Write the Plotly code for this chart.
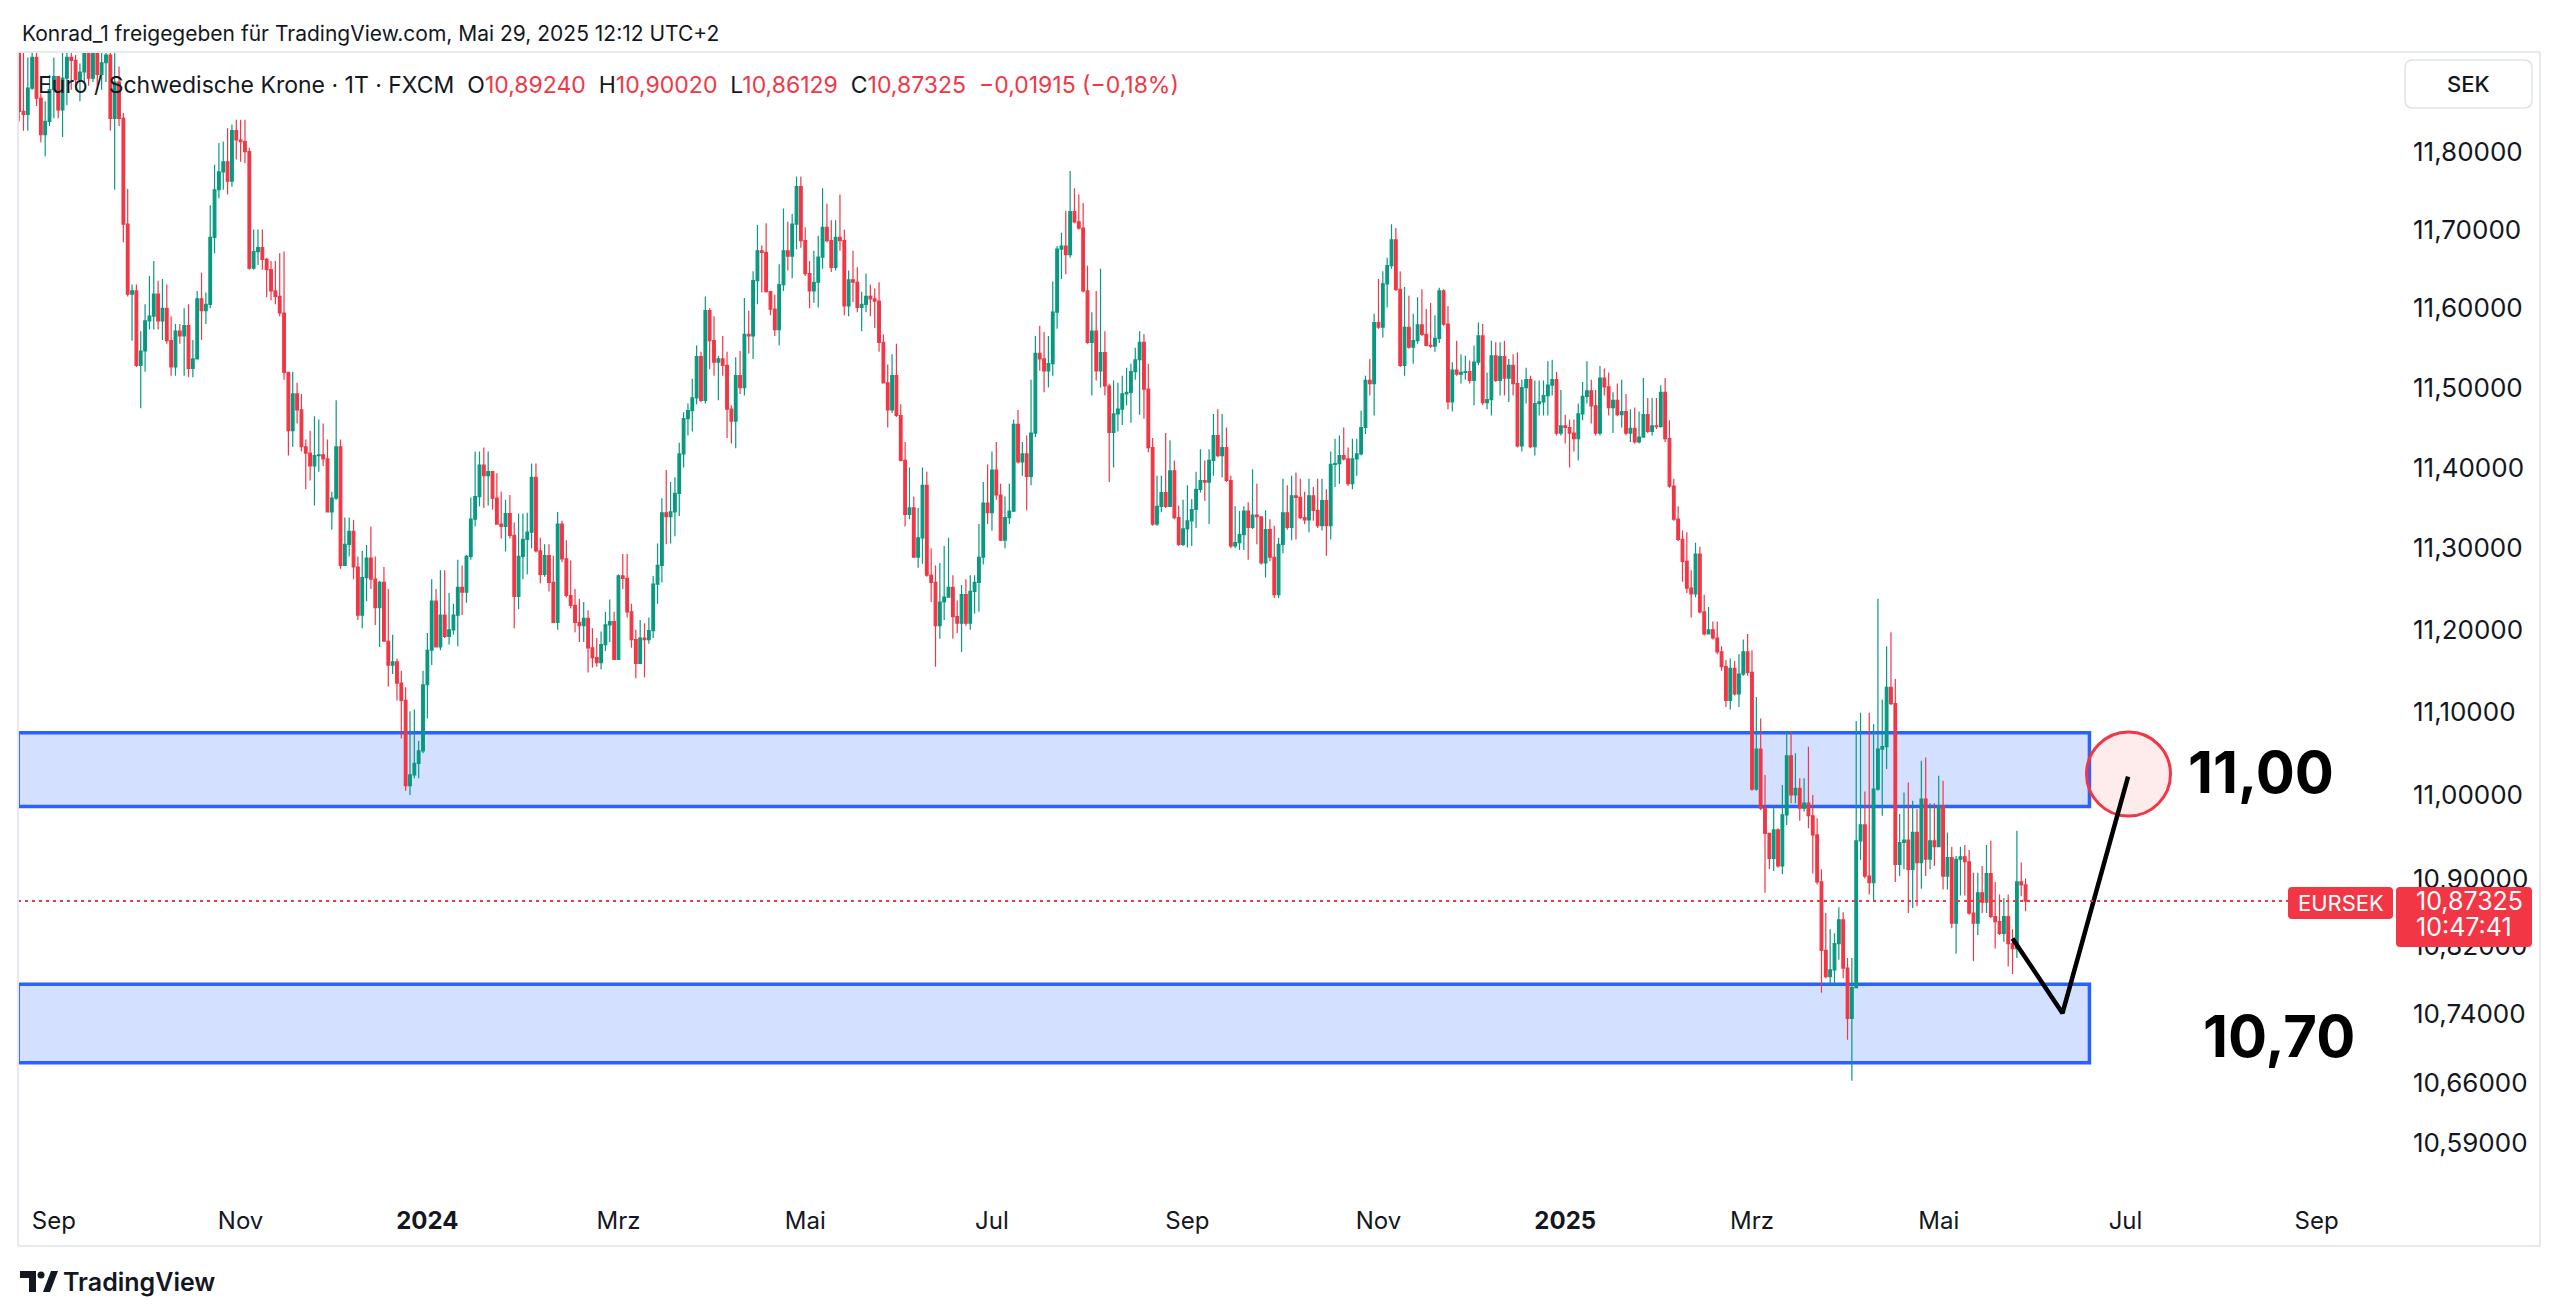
import math
import numpy as np
import pandas as pd
import plotly.graph_objects as go

# ---------------- data (EUR/SEK daily) ----------------
first_open = 11.955

close = [
    11.930, 11.852, 11.848, 11.882, 11.922, 11.869, 11.822, 11.839, 11.880, 11.897,
    11.854, 11.895, 11.922, 11.918, 11.893, 11.903, 11.930, 11.895, 11.930, 11.900,
    11.915, 11.925, 11.843, 11.890, 11.843, 11.707, 11.618, 11.622, 11.528, 11.546,
    11.584, 11.590, 11.618, 11.584, 11.600, 11.559, 11.526, 11.571, 11.565, 11.578,
    11.524, 11.536, 11.612, 11.597, 11.605, 11.690, 11.751, 11.774, 11.787, 11.762,
    11.827, 11.815, 11.813, 11.800, 11.651, 11.672, 11.677, 11.662, 11.649, 11.622,
    11.615, 11.594, 11.519, 11.446, 11.492, 11.472, 11.426, 11.418, 11.402, 11.415,
    11.416, 11.411, 11.345, 11.362, 11.426, 11.279, 11.305, 11.321, 11.277, 11.218,
    11.264, 11.288, 11.262, 11.227, 11.258, 11.186, 11.157, 11.161, 11.135, 11.114,
    11.011, 11.024, 11.038, 11.053, 11.133, 11.175, 11.235, 11.179, 11.218, 11.192,
    11.200, 11.218, 11.252, 11.246, 11.290, 11.336, 11.364, 11.403, 11.390, 11.395,
    11.362, 11.330, 11.327, 11.343, 11.316, 11.241, 11.290, 11.311,
    11.320, 11.388, 11.297, 11.268, 11.291, 11.258, 11.209, 11.330, 11.287, 11.242,
    11.230, 11.209, 11.205, 11.214, 11.178, 11.166, 11.160, 11.182, 11.206, 11.210,
    11.164, 11.266, 11.263, 11.222, 11.188, 11.159, 11.190, 11.188, 11.199, 11.256,
    11.279, 11.344, 11.339, 11.345, 11.368, 11.417, 11.461, 11.471, 11.487, 11.539,
    11.484, 11.597, 11.559, 11.532, 11.536, 11.528, 11.473, 11.458, 11.515, 11.500,
    11.567, 11.565, 11.635, 11.673, 11.671, 11.621, 11.599, 11.573, 11.630,
    11.673, 11.666, 11.707, 11.755, 11.686, 11.644, 11.622, 11.633, 11.665, 11.703,
    11.686, 11.652, 11.690, 11.686, 11.603, 11.636, 11.633, 11.601, 11.605, 11.615,
    11.612,
    11.609, 11.557, 11.506, 11.472, 11.515, 11.465, 11.409, 11.342, 11.350, 11.289,
    11.313, 11.378, 11.267, 11.258, 11.205, 11.234, 11.240, 11.252, 11.216, 11.208,
    11.243, 11.208, 11.247, 11.258, 11.289, 11.356, 11.344, 11.397, 11.366, 11.310,
    11.338, 11.346, 11.454, 11.407, 11.417, 11.389, 11.443, 11.543,
    11.536, 11.521, 11.530, 11.595, 11.675, 11.679, 11.668, 11.723, 11.710, 11.702,
    11.622, 11.557, 11.571, 11.521, 11.544, 11.502, 11.444, 11.467, 11.473, 11.492,
    11.494, 11.520,
    11.535,
    11.557, 11.498, 11.425, 11.330, 11.352, 11.369, 11.352, 11.396, 11.338, 11.305,
    11.324, 11.334, 11.348, 11.373, 11.384, 11.382, 11.409, 11.440, 11.415, 11.425,
    11.384, 11.303, 11.307, 11.317, 11.346, 11.326, 11.341, 11.339, 11.282, 11.323,
    11.289, 11.243, 11.305, 11.344, 11.326, 11.365,
    11.363, 11.338, 11.335, 11.365, 11.347, 11.328, 11.359, 11.328, 11.404, 11.405,
    11.415, 11.411, 11.380, 11.411, 11.417, 11.450, 11.509, 11.505, 11.582, 11.576,
    11.631, 11.654, 11.687, 11.624, 11.528, 11.576, 11.551, 11.559, 11.579, 11.567,
    11.553, 11.552, 11.562, 11.622, 11.580, 11.482, 11.522, 11.517, 11.519, 11.520,
    11.509, 11.532, 11.565, 11.481, 11.485, 11.540, 11.509, 11.539, 11.512, 11.528,
    11.505, 11.427, 11.500, 11.510, 11.426, 11.480, 11.482, 11.490, 11.503,
    11.510, 11.443, 11.452, 11.450, 11.443, 11.436, 11.467, 11.489, 11.496, 11.477,
    11.443, 11.512, 11.501, 11.475, 11.484, 11.466, 11.470, 11.443, 11.449, 11.432,
    11.438, 11.466, 11.445, 11.452, 11.451, 11.494, 11.436, 11.377, 11.336, 11.311,
    11.284, 11.251, 11.244, 11.293, 11.222, 11.195, 11.200, 11.190, 11.173, 11.155,
    11.114, 11.153, 11.122, 11.146, 11.173, 11.148, 11.007, 11.055, 10.984, 10.954,
    10.924, 10.958, 10.915, 10.976, 11.047, 11.000, 11.008, 10.984, 10.990,
    10.975, 10.952, 10.896, 10.815, 10.784, 10.792, 10.823, 10.851, 10.794, 10.735,
    10.771, 10.945, 10.964, 10.903, 10.895, 11.007, 11.055, 11.058, 11.130, 11.110,
    10.917, 10.943, 10.946, 10.911, 10.955, 10.919, 10.995, 10.923, 10.945, 10.938,
    10.987, 10.903, 10.925, 10.847, 10.923, 10.926, 10.920, 10.859, 10.847, 10.883,
    10.872, 10.906, 10.855, 10.849, 10.835, 10.855, 10.823, 10.817, 10.896, 10.8924, 10.87325,
]

high = [
    11.975, 11.950, 11.930, 11.922, 11.950, 11.930, 11.875, 11.865, 11.899, 11.922,
    11.897, 11.930, 11.940, 11.940, 11.925, 11.914, 11.960, 11.950, 11.970, 11.940,
    11.940, 11.950, 11.930, 11.930, 11.910, 11.850, 11.752, 11.630, 11.630, 11.571,
    11.605, 11.641, 11.660, 11.635, 11.637, 11.630, 11.590, 11.580, 11.580, 11.600,
    11.605, 11.560, 11.622, 11.645, 11.620, 11.731, 11.783, 11.811, 11.813, 11.830,
    11.835, 11.841, 11.841, 11.841, 11.805, 11.700, 11.700, 11.700, 11.664, 11.660,
    11.660, 11.670, 11.672, 11.520, 11.520, 11.506, 11.492, 11.435, 11.446, 11.464,
    11.460, 11.455, 11.435, 11.370, 11.484, 11.435, 11.338, 11.338, 11.335, 11.290,
    11.297, 11.304, 11.327, 11.290, 11.260, 11.277, 11.250, 11.194, 11.165, 11.150,
    11.130, 11.101, 11.103, 11.065, 11.150, 11.196, 11.262, 11.250, 11.273, 11.273,
    11.245, 11.232, 11.286, 11.279, 11.292, 11.363, 11.420, 11.420, 11.425, 11.420,
    11.393, 11.393, 11.370, 11.360, 11.366, 11.332, 11.343, 11.343,
    11.344, 11.405, 11.405, 11.313, 11.305, 11.305, 11.291, 11.345, 11.334, 11.310,
    11.285, 11.250, 11.238, 11.234, 11.224, 11.202, 11.190, 11.198, 11.222, 11.237,
    11.222, 11.268, 11.293, 11.293, 11.232, 11.200, 11.212, 11.208, 11.215, 11.266,
    11.306, 11.362, 11.397, 11.382, 11.388, 11.431, 11.469, 11.480, 11.511, 11.553,
    11.545, 11.615, 11.600, 11.590, 11.540, 11.565, 11.545, 11.478, 11.538, 11.546,
    11.613, 11.597, 11.647, 11.706, 11.680, 11.708, 11.620, 11.617, 11.656,
    11.727, 11.710, 11.720, 11.768, 11.768, 11.703, 11.660, 11.673, 11.692, 11.753,
    11.733, 11.712, 11.712, 11.745, 11.700, 11.648, 11.673, 11.652, 11.621, 11.644,
    11.630,
    11.625, 11.633, 11.567, 11.529, 11.542, 11.555, 11.479, 11.432, 11.400, 11.364,
    11.350, 11.400, 11.395, 11.300, 11.279, 11.282, 11.303, 11.313, 11.267, 11.236,
    11.255, 11.262, 11.267, 11.267, 11.330, 11.382, 11.404, 11.420, 11.432, 11.380,
    11.364, 11.380, 11.460, 11.472, 11.432, 11.440, 11.510, 11.565,
    11.578, 11.570, 11.565, 11.634, 11.679, 11.696, 11.724, 11.775, 11.753, 11.745,
    11.734, 11.654, 11.595, 11.622, 11.650, 11.571, 11.505, 11.509, 11.506, 11.515,
    11.525, 11.530,
    11.550,
    11.571, 11.567, 11.530, 11.437, 11.390, 11.390, 11.443, 11.434, 11.409, 11.353,
    11.360, 11.378, 11.361, 11.395, 11.423, 11.409, 11.423, 11.467, 11.473, 11.467,
    11.450, 11.390, 11.352, 11.346, 11.352, 11.357, 11.398, 11.380, 11.338, 11.347,
    11.336, 11.328, 11.313, 11.386, 11.378, 11.390,
    11.394, 11.386, 11.370, 11.386, 11.376, 11.386, 11.386, 11.373, 11.420, 11.436,
    11.440, 11.450, 11.425, 11.436, 11.436, 11.471, 11.515, 11.536, 11.593, 11.637,
    11.647, 11.664, 11.707, 11.702, 11.647, 11.627, 11.616, 11.593, 11.614, 11.624,
    11.599, 11.607, 11.591, 11.626, 11.624, 11.603, 11.532, 11.559, 11.542, 11.540,
    11.534, 11.553, 11.582, 11.580, 11.519, 11.559, 11.557, 11.557, 11.559, 11.536,
    11.542, 11.544, 11.510, 11.525, 11.515, 11.509, 11.509, 11.509, 11.533,
    11.535, 11.520, 11.497, 11.466, 11.460, 11.460, 11.480, 11.507, 11.533, 11.510,
    11.497, 11.527, 11.524, 11.519, 11.494, 11.505, 11.510, 11.492, 11.473, 11.475,
    11.470, 11.512, 11.487, 11.487, 11.487, 11.503, 11.512, 11.459, 11.386, 11.352,
    11.322, 11.320, 11.273, 11.307, 11.302, 11.243, 11.228, 11.210, 11.210, 11.180,
    11.163, 11.165, 11.162, 11.170, 11.188, 11.195, 11.175, 11.118, 11.092, 11.024,
    10.954, 10.984, 10.960, 11.012, 11.077, 11.077, 11.050, 11.020, 11.020,
    11.058, 11.000, 10.972, 10.911, 10.859, 10.840, 10.835, 10.866, 10.860, 10.806,
    10.806, 11.089, 11.099, 11.004, 11.099, 11.085, 11.238, 11.115, 11.180, 11.197,
    11.140, 10.977, 11.003, 11.015, 10.993, 10.983, 11.041, 11.045, 10.990, 10.990,
    11.023, 11.017, 10.955, 10.938, 10.927, 10.938, 10.940, 10.934, 10.907, 10.907,
    10.915, 10.940, 10.945, 10.896, 10.881, 10.877, 10.881, 10.840, 10.957, 10.919, 10.90020,
]

low = [
    11.900, 11.839, 11.827, 11.827, 11.880, 11.859, 11.812, 11.794, 11.833, 11.843,
    11.843, 11.819, 11.860, 11.880, 11.880, 11.865, 11.890, 11.885, 11.890, 11.880,
    11.880, 11.890, 11.827, 11.751, 11.833, 11.684, 11.615, 11.559, 11.526, 11.474,
    11.520, 11.573, 11.573, 11.573, 11.560, 11.555, 11.515, 11.515, 11.555, 11.515,
    11.513, 11.513, 11.540, 11.560, 11.580, 11.600, 11.670, 11.740, 11.751, 11.745,
    11.755, 11.790, 11.787, 11.785, 11.649, 11.649, 11.655, 11.649, 11.614, 11.610,
    11.605, 11.590, 11.510, 11.415, 11.426, 11.455, 11.420, 11.373, 11.384, 11.353,
    11.395, 11.402, 11.345, 11.323, 11.360, 11.275, 11.285, 11.290, 11.262, 11.212,
    11.202, 11.235, 11.250, 11.206, 11.179, 11.186, 11.131, 11.146, 11.114, 11.068,
    11.005, 11.000, 11.020, 11.020, 11.050, 11.092, 11.157, 11.179, 11.175, 11.190,
    11.182, 11.194, 11.180, 11.218, 11.233, 11.286, 11.327, 11.352, 11.350, 11.353,
    11.348, 11.330, 11.312, 11.296, 11.312, 11.202, 11.225, 11.262,
    11.268, 11.300, 11.295, 11.257, 11.265, 11.247, 11.209, 11.200, 11.283, 11.240,
    11.226, 11.197, 11.185, 11.185, 11.148, 11.154, 11.155, 11.152, 11.174, 11.185,
    11.164, 11.168, 11.250, 11.215, 11.178, 11.141, 11.158, 11.142, 11.183, 11.190,
    11.232, 11.258, 11.305, 11.306, 11.315, 11.340, 11.400, 11.440, 11.445, 11.479,
    11.482, 11.480, 11.523, 11.515, 11.484, 11.515, 11.437, 11.430, 11.424, 11.492,
    11.490, 11.543, 11.536, 11.605, 11.620, 11.620, 11.591, 11.565, 11.553,
    11.622, 11.648, 11.638, 11.675, 11.677, 11.641, 11.600, 11.607, 11.601, 11.650,
    11.684, 11.646, 11.648, 11.673, 11.591, 11.590, 11.608, 11.595, 11.571, 11.595,
    11.590,
    11.575, 11.545, 11.505, 11.450, 11.468, 11.463, 11.408, 11.327, 11.336, 11.289,
    11.276, 11.281, 11.265, 11.234, 11.155, 11.189, 11.212, 11.240, 11.189, 11.196,
    11.173, 11.205, 11.200, 11.220, 11.222, 11.280, 11.330, 11.322, 11.360, 11.309,
    11.300, 11.330, 11.345, 11.405, 11.390, 11.347, 11.378, 11.438,
    11.521, 11.494, 11.500, 11.515, 11.574, 11.637, 11.643, 11.664, 11.708, 11.700,
    11.620, 11.555, 11.490, 11.509, 11.500, 11.490, 11.382, 11.400, 11.445, 11.453,
    11.478, 11.456,
    11.510,
    11.466, 11.461, 11.419, 11.328, 11.328, 11.345, 11.350, 11.356, 11.336, 11.303,
    11.303, 11.301, 11.303, 11.325, 11.369, 11.359, 11.330, 11.390, 11.413, 11.388,
    11.382, 11.300, 11.300, 11.298, 11.298, 11.286, 11.324, 11.305, 11.280, 11.264,
    11.284, 11.239, 11.239, 11.294, 11.323, 11.310,
    11.311, 11.336, 11.330, 11.320, 11.334, 11.325, 11.322, 11.291, 11.311, 11.376,
    11.380, 11.409, 11.377, 11.373, 11.390, 11.415, 11.442, 11.490, 11.465, 11.574,
    11.563, 11.601, 11.650, 11.622, 11.526, 11.515, 11.549, 11.530, 11.555, 11.565,
    11.552, 11.550, 11.545, 11.556, 11.578, 11.473, 11.470, 11.515, 11.505, 11.510,
    11.505, 11.478, 11.528, 11.478, 11.473, 11.465, 11.507, 11.490, 11.490, 11.482,
    11.490, 11.425, 11.420, 11.480, 11.424, 11.415, 11.465, 11.465, 11.465,
    11.490, 11.440, 11.440, 11.430, 11.400, 11.420, 11.409, 11.459, 11.480, 11.455,
    11.440, 11.440, 11.490, 11.465, 11.443, 11.464, 11.450, 11.440, 11.432, 11.430,
    11.430, 11.452, 11.443, 11.440, 11.448, 11.450, 11.432, 11.375, 11.334, 11.309,
    11.259, 11.245, 11.215, 11.240, 11.220, 11.193, 11.195, 11.188, 11.170, 11.150,
    11.106, 11.103, 11.120, 11.106, 11.144, 11.144, 11.005, 11.005, 10.982, 10.883,
    10.911, 10.909, 10.913, 10.905, 10.964, 10.990, 10.990, 10.969, 10.980,
    10.960, 10.906, 10.893, 10.765, 10.782, 10.774, 10.774, 10.804, 10.782, 10.710,
    10.662, 10.770, 10.922, 10.900, 10.881, 10.874, 11.005, 10.975, 11.031, 11.108,
    10.896, 10.903, 10.911, 10.859, 10.865, 10.867, 10.888, 10.903, 10.911, 10.915,
    10.938, 10.887, 10.887, 10.841, 10.811, 10.880, 10.880, 10.857, 10.802, 10.833,
    10.859, 10.859, 10.853, 10.817, 10.833, 10.825, 10.796, 10.787, 10.806, 10.879, 10.86129,
]

last_date = "2025-05-29"

y_tickvals = [11.80, 11.70, 11.60, 11.50, 11.40, 11.30, 11.20, 11.10, 11.00,
              10.90, 10.82, 10.74, 10.66, 10.59]
x_tickvals = ["2023-09-01", "2023-11-01", "2024-01-01", "2024-03-01", "2024-05-01",
              "2024-07-01", "2024-09-02", "2024-11-01", "2025-01-01", "2025-03-03",
              "2025-05-01", "2025-07-01", "2025-09-01"]
x_ticktext = ["Sep", "Nov", "<b>2024</b>", "Mrz", "Mai", "Jul", "Sep", "Nov",
              "<b>2025</b>", "Mrz", "Mai", "Jul", "Sep"]

# drawings (time / price anchors)
zone_upper = (10.986, 11.075)
zone_lower = (10.683, 10.775)
path_bars = [460.0, 471.5, 486.6]          # bar positions of the projection line
path_prices = [10.829, 10.741, 11.022]
circle_bar, circle_price = 486.7, 11.025
label_upper = ("11,00", 517.3, 11.028)
label_lower = ("10,70", 521.3, 10.714)

# ---------------- build ----------------
GREEN = "#089981"
RED = "#F23645"
DARK = "#131722"
BLUE = "#2962FF"

n = min(len(close), len(high), len(low))
close = close[:n]; high = high[:n]; low = low[:n]
opens = [first_open] + close[:-1]
hi = [max(h, o, c) for h, o, c in zip(high, opens, close)]
lo = [min(l, o, c) for l, o, c in zip(low, opens, close)]
dates = pd.bdate_range(end=last_date, periods=n)

cal = pd.bdate_range(dates[0], periods=700)


def at(pos):
    k = int(math.floor(pos))
    return cal[k] + pd.Timedelta(days=float(pos - k))


W, H = 2560, 1314
PL, PR, PT, PB = 18, 2393, 52, 1195


def px(x):
    return (x - PL) / (PR - PL)


def py(y):
    return (PB - y) / (PB - PT)


def fmt(v, d=5):
    return f"{v:.{d}f}".replace(".", ",").replace("-", "\u2212")


fig = go.Figure()
fig.add_trace(go.Candlestick(
    x=dates, open=opens, high=hi, low=lo, close=close,
    increasing=dict(line=dict(color=GREEN, width=1.2), fillcolor=GREEN),
    decreasing=dict(line=dict(color=RED, width=1.2), fillcolor=RED),
    whiskerwidth=0, hoverinfo="skip", showlegend=False,
))
# target circle (pixel-sized marker)
fig.add_trace(go.Scatter(
    x=[at(circle_bar)], y=[circle_price], mode="markers",
    marker=dict(symbol="circle", size=84, color="rgba(242,54,69,0.10)",
                line=dict(color=RED, width=3)),
    hoverinfo="skip", showlegend=False,
))
fig.add_trace(go.Scatter(
    x=[at(b) for b in path_bars], y=path_prices, mode="lines",
    line=dict(color="black", width=4.5), hoverinfo="skip", showlegend=False,
))

shapes = []
x_left = at(0.78)
x_right = at(477.7)
for lo_, hi_ in (zone_upper, zone_lower):
    shapes.append(dict(type="rect", xref="x", yref="y", x0=x_left, x1=x_right,
                       y0=lo_, y1=hi_, layer="below",
                       line=dict(color=BLUE, width=3.5),
                       fillcolor="rgba(41,98,255,0.2)"))
# last price line
shapes.append(dict(type="line", xref="x", yref="y", x0=at(0.74), x1=at(523.7),
                   y0=close[-1], y1=close[-1], layer="above",
                   line=dict(color=RED, width=2, dash="3px,4px")))


def rrect(x0, y0, x1, y1, r):
    rx = r / (PR - PL); ry = r / (PB - PT)
    X0, X1, Y0, Y1 = px(x0), px(x1), py(y0), py(y1)
    return (f"M{X0+rx},{Y0} L{X1-rx},{Y0} Q{X1},{Y0} {X1},{Y0-ry} "
            f"L{X1},{Y1+ry} Q{X1},{Y1} {X1-rx},{Y1} L{X0+rx},{Y1} "
            f"Q{X0},{Y1} {X0},{Y1+ry} L{X0},{Y0-ry} Q{X0},{Y0} {X0+rx},{Y0} Z")


def poly(pts):
    return "M" + " L".join(f"{px(a)},{py(b)}" for a, b in pts) + " Z"


FRAME = "#E6E9EF"
for (a, b, c, d) in [(18, 52, 2540, 52), (18, 1246, 2540, 1246), (18, 52, 18, 1246), (2540, 52, 2540, 1246)]:
    shapes.append(dict(type="line", xref="paper", yref="paper", x0=px(a), y0=py(b), x1=px(c), y1=py(d),
                       line=dict(color=FRAME, width=2), layer="above"))
# SEK button
shapes.append(dict(type="path", xref="paper", yref="paper", path=rrect(2405, 60, 2532, 108, 8),
                   line=dict(color="#E0E3EB", width=1.5), fillcolor="white", layer="above"))
# EURSEK tag & price label
shapes.append(dict(type="path", xref="paper", yref="paper", path=rrect(2288, 887, 2393, 919, 4),
                   line=dict(width=0), fillcolor=RED, layer="above"))
shapes.append(dict(type="path", xref="paper", yref="paper", path=rrect(2396, 887, 2532, 947, 4),
                   line=dict(width=0), fillcolor=RED, layer="above"))
# TradingView logo mark
shapes.append(dict(type="path", xref="paper", yref="paper",
                   path=poly([(20, 1271), (36, 1271), (36, 1292), (29, 1292), (29, 1278), (20, 1278)]),
                   line=dict(width=0), fillcolor=DARK, layer="above"))
shapes.append(dict(type="circle", xref="paper", yref="paper", x0=px(37.5), x1=px(44.5),
                   y0=py(1271.5), y1=py(1278.5), line=dict(width=0), fillcolor=DARK, layer="above"))
shapes.append(dict(type="path", xref="paper", yref="paper",
                   path=poly([(43, 1292), (50, 1292), (58, 1271), (51, 1271)]),
                   line=dict(width=0), fillcolor=DARK, layer="above"))

annotations = []
FONT = "Inter"
annotations.append(dict(xref="paper", yref="paper", x=px(20), y=py(33), xanchor="left", yanchor="middle",
                        text="Konrad_1 freigegeben für TradingView.com, Mai 29, 2025 12:12 UTC+2",
                        showarrow=False, font=dict(family=FONT, size=21, color=DARK)))
chg = close[-1] - close[-2]
pct = chg / close[-2] * 100
sp = "&nbsp;&nbsp;"
legend = ("Euro / Schwedische Krone · 1T · FXCM" + sp +
          f"O<span style='color:{RED}'>{fmt(opens[-1])}</span>" + sp +
          f"H<span style='color:{RED}'>{fmt(hi[-1])}</span>" + sp +
          f"L<span style='color:{RED}'>{fmt(lo[-1])}</span>" + sp +
          f"C<span style='color:{RED}'>{fmt(close[-1])}</span>" + sp +
          f"<span style='color:{RED}'>{fmt(chg)} ({fmt(pct, 2)}%)</span>")
annotations.append(dict(xref="paper", yref="paper", x=px(36), y=py(85), xanchor="left", yanchor="middle",
                        text=legend, showarrow=False, font=dict(family=FONT, size=23, color=DARK)))
annotations.append(dict(xref="paper", yref="paper", x=px(2468.5), y=py(84), xanchor="center", yanchor="middle",
                        text="SEK", showarrow=False, font=dict(family=FONT, size=22, color=DARK, weight=500)))
annotations.append(dict(xref="paper", yref="paper", x=px(2340.5), y=py(903), xanchor="center", yanchor="middle",
                        text="EURSEK", showarrow=False, font=dict(family=FONT, size=22, color="white")))
annotations.append(dict(xref="paper", yref="paper", x=px(2414), y=py(901), xanchor="left", yanchor="middle",
                        text=fmt(close[-1]), showarrow=False, font=dict(family=FONT, size=25, color="white")))
annotations.append(dict(xref="paper", yref="paper", x=px(2414), y=py(927), xanchor="left", yanchor="middle",
                        text="10:47:41", showarrow=False, font=dict(family=FONT, size=25, color="white")))
for txt, b, p in (label_upper, label_lower):
    annotations.append(dict(xref="x", yref="y", x=at(b), y=math.log10(p), xanchor="center", yanchor="middle",
                            text=f"<b>{txt}</b>", showarrow=False,
                            font=dict(family=FONT, size=58, color="black")))
annotations.append(dict(xref="paper", yref="paper", x=px(61), y=py(1282), xanchor="left", yanchor="middle",
                        text="TradingView", showarrow=False,
                        font=dict(family=FONT, size=25, color=DARK, weight=600)))

fig.update_layout(
    width=W, height=H,
    margin=dict(l=PL, r=W - PR, t=PT, b=H - PB, pad=0),
    paper_bgcolor="white", plot_bgcolor="white",
    showlegend=False, hovermode=False,
    boxgap=0.22, boxgroupgap=0.22,
    font=dict(family=FONT, color=DARK),
    shapes=shapes, annotations=annotations,
    xaxis=dict(type="date", range=[at(0.74), at(547.6)],
               rangebreaks=[dict(bounds=["sat", "mon"])],
               rangeslider=dict(visible=False),
               tickmode="array", tickvals=x_tickvals, ticktext=x_ticktext,
               tickfont=dict(family=FONT, size=24, color=DARK),
               showgrid=False, zeroline=False, showline=False, ticks="",
               ticklabelstandoff=9),
    yaxis=dict(type="log", range=[math.log10(10.530), math.log10(11.929)],
               side="right", tickmode="array", tickvals=y_tickvals,
               ticktext=[fmt(v) for v in y_tickvals],
               tickfont=dict(family=FONT, size=26, color=DARK),
               showgrid=False, zeroline=False, showline=False, ticks="",
               ticklabelstandoff=19),
)

fig.write_html("out.html")
